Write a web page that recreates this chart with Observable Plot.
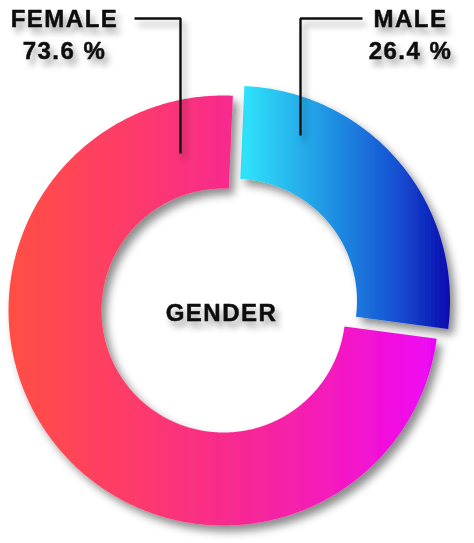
<!DOCTYPE html>
<html><head><meta charset="utf-8">
<script src="https://cdn.jsdelivr.net/npm/d3@7"></script>
<script src="https://cdn.jsdelivr.net/npm/@observablehq/plot@0.6"></script>
<style>body{margin:0;background:#fff;overflow:hidden}</style>
</head><body><div id="chart"></div>
<script>
// ---- data ----
const categories = ["MALE", "FEMALE"];
const shares = [26.4, 73.6];
const centerTitle = "GENDER";

// ---- layout ----
const W = 474, H = 543;
const cx = 223, cy = 310, R = 215, r = 122;
const startDeg = 2.5;
const explode = {MALE: 15, FEMALE: 0};
const gradId = {MALE: "gMale", FEMALE: "gFemale"};
// label placement (text center x, leader path)
const labelPos = {
  FEMALE: {x: 64, leader: [[134, 18], [180, 18], [180, 153]]},
  MALE:   {x: 410, leader: [[362, 18], [300, 18], [300, 135]]}
};

// build slice polygons from shares
const total = d3.sum(shares);
let a = startDeg * Math.PI / 180;
const slicePts = [];
categories.forEach((c, i) => {
  const a0 = a, a1 = a + shares[i] / total * 2 * Math.PI;
  a = a1;
  const mid = (a0 + a1) / 2;
  const ox = explode[c] * Math.sin(mid), oy = -explode[c] * Math.cos(mid);
  const n = Math.max(8, Math.ceil((a1 - a0) / (Math.PI / 360)));
  for (let k = 0; k <= n; k++) {
    const t = a0 + (a1 - a0) * k / n;
    slicePts.push({cat: c, x: cx + ox + R * Math.sin(t), y: cy + oy - R * Math.cos(t)});
  }
  for (let k = n; k >= 0; k--) {
    const t = a0 + (a1 - a0) * k / n;
    slicePts.push({cat: c, x: cx + ox + r * Math.sin(t), y: cy + oy - r * Math.cos(t)});
  }
});

const leaderPts = categories.flatMap(c => labelPos[c].leader.map(([x, y]) => ({cat: c, x, y})));
const nameLabels = categories.map(c => ({text: c, x: labelPos[c].x, y: 19}));
const valueLabels = categories.map((c, i) => ({text: `${shares[i]} %`, x: labelPos[c].x, y: 51}));

const marks = categories.map(c =>
  Plot.line(slicePts.filter(d => d.cat === c), {x: "x", y: "y", fill: `url(#${gradId[c]})`, stroke: "none"})
);

const txt = {fontSize: 24, fontWeight: "bold", fill: "#111", stroke: "#111", strokeWidth: 0.5};
const svg = Plot.plot({
  width: W, height: H,
  margin: 0,
  x: {domain: [0, W], range: [0, W], axis: null},
  y: {domain: [0, H], range: [0, H], axis: null},
  style: {background: "#fff", fontFamily: "'Liberation Sans', Arial, sans-serif"},
  marks: [
    ...marks,
    Plot.line(leaderPts, {x: "x", y: "y", z: "cat", stroke: "#111", strokeWidth: 2.4, strokeLinejoin: "miter", strokeLinecap: "butt"}),
    Plot.text(nameLabels, {x: "x", y: "y", text: "text", ...txt}),
    Plot.text(valueLabels, {x: "x", y: "y", text: "text", ...txt}),
    Plot.text([centerTitle], {x: () => 221, y: () => 313, text: d => d, ...txt})
  ]
});

// defs: gradients and shadows
const s = d3.select(svg);
const defs = s.insert("defs", ":first-child");
const gf = defs.append("linearGradient").attr("id", "gFemale").attr("x1", 0).attr("x2", 1).attr("y1", 0).attr("y2", 0);
[[0, "#ff4f43"], [0.3, "#fd3a6c"], [0.5, "#f82b8b"], [0.75, "#f41bbd"], [1, "#ee05f8"]].forEach(([o, c]) =>
  gf.append("stop").attr("offset", o).attr("stop-color", c));
const gm = defs.append("linearGradient").attr("id", "gMale").attr("x1", 0).attr("x2", 1).attr("y1", 0).attr("y2", 0);
[[0, "#30e6fb"], [0.45, "#1f8ee2"], [0.75, "#1650d2"], [1, "#0a0cae"]].forEach(([o, c]) =>
  gm.append("stop").attr("offset", o).attr("stop-color", c));
const f1 = defs.append("filter").attr("id", "shadow").attr("x", "-20%").attr("y", "-20%").attr("width", "140%").attr("height", "140%");
f1.append("feDropShadow").attr("dx", 5).attr("dy", 6).attr("stdDeviation", 4).attr("flood-color", "#000").attr("flood-opacity", 0.45);
const f2 = defs.append("filter").attr("id", "tshadow").attr("x", "-30%").attr("y", "-50%").attr("width", "160%").attr("height", "220%");
f2.append("feDropShadow").attr("dx", 4).attr("dy", 6).attr("stdDeviation", 3).attr("flood-color", "#000").attr("flood-opacity", 0.35);

const groups = s.selectAll(":scope > g").nodes();
groups.forEach((g, i) => {
  if (i < categories.length) d3.select(g).attr("filter", "url(#shadow)");
  else d3.select(g).attr("filter", "url(#tshadow)");
});
s.selectAll("text").attr("letter-spacing", "1.5px");

document.getElementById("chart").appendChild(svg);
</script>
</body></html>
